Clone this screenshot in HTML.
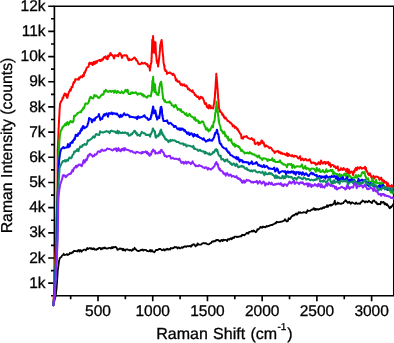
<!DOCTYPE html>
<html><head><meta charset="utf-8"><style>
html,body{margin:0;padding:0;background:#fff;overflow:hidden}
svg{display:block}
text{font-family:"Liberation Sans",Arial,sans-serif;fill:#000;text-rendering:geometricPrecision;stroke:#000;stroke-width:0.3px}
</style></head><body>
<svg width="394" height="343" viewBox="0 0 394 343">
<g font-size="15.5"><text x="45.6" y="287.78" text-anchor="end">1k</text><text x="45.6" y="262.60" text-anchor="end">2k</text><text x="45.6" y="237.42" text-anchor="end">3k</text><text x="45.6" y="212.24" text-anchor="end">4k</text><text x="45.6" y="187.06" text-anchor="end">5k</text><text x="45.6" y="161.88" text-anchor="end">6k</text><text x="45.6" y="136.70" text-anchor="end">7k</text><text x="45.6" y="111.52" text-anchor="end">8k</text><text x="45.6" y="86.34" text-anchor="end">9k</text><text x="45.6" y="61.16" text-anchor="end">10k</text><text x="45.6" y="35.98" text-anchor="end">11k</text><text x="45.6" y="10.80" text-anchor="end">12k</text><text x="98.02" y="316.4" text-anchor="middle">500</text><text x="152.74" y="316.4" text-anchor="middle">1000</text><text x="207.46" y="316.4" text-anchor="middle">1500</text><text x="262.18" y="316.4" text-anchor="middle">2000</text><text x="316.90" y="316.4" text-anchor="middle">2500</text><text x="371.62" y="316.4" text-anchor="middle">3000</text></g>
<text font-size="16.0" y="339.4"><tspan x="156.3">Raman </tspan><tspan x="213.1">Shift </tspan><tspan x="250.4">(cm</tspan><tspan x="277.4" y="330.3" font-size="10">-1</tspan><tspan x="287.2" y="339.4">)</tspan></text>
<text font-size="15.8" transform="translate(12.0 233.3) rotate(-90)" x="0" y="0">Raman Intensity (counts)</text>
<g fill="none" stroke="#000" stroke-width="1.65">
<path d="M48.2 283.18H54.40M48.2 258.00H54.40M48.2 232.82H54.40M48.2 207.64H54.40M48.2 182.46H54.40M48.2 157.28H54.40M48.2 132.10H54.40M48.2 106.92H54.40M48.2 81.74H54.40M48.2 56.56H54.40M48.2 31.38H54.40M48.2 6.20H54.40M51 270.59H54.40M51 245.41H54.40M51 220.23H54.40M51 195.05H54.40M51 169.87H54.40M51 144.69H54.40M51 119.51H54.40M51 94.33H54.40M51 69.15H54.40M51 43.97H54.40M51 18.79H54.40M51 295.77H54.40M98.02 295.70V301.2M152.74 295.70V301.2M207.46 295.70V301.2M262.18 295.70V301.2M316.90 295.70V301.2M371.62 295.70V301.2M70.66 295.70V299.2M125.38 295.70V299.2M180.10 295.70V299.2M234.82 295.70V299.2M289.54 295.70V299.2M344.26 295.70V299.2"/>
<path d="M54.40 295.70V6.20H393.80V295.70Z" stroke-linejoin="miter"/>
</g>
<g fill="none" stroke-linejoin="round" stroke-linecap="round"><path stroke="#000000" stroke-width="1.8" d="M53.5 305.0 L53.7 304.2 L53.9 303.3 L54.0 302.5 L54.2 301.7 L54.4 300.8 L54.6 300.0 L54.8 299.1 L55.1 298.1 L55.3 297.2 L55.6 296.2 L55.8 295.3 L55.9 294.4 L56.0 293.5 L56.1 292.6 L56.2 291.6 L56.3 290.7 L56.4 289.8 L56.5 288.9 L56.6 288.0 L56.7 287.1 L56.7 286.2 L56.8 285.3 L56.9 284.4 L56.9 283.6 L57.0 282.7 L57.1 281.8 L57.1 280.9 L57.2 280.0 L57.2 279.1 L57.3 278.2 L57.4 277.3 L57.4 276.4 L57.5 275.5 L57.5 274.6 L57.6 273.7 L57.6 272.8 L57.7 271.9 L57.7 271.0 L57.8 270.1 L58.0 269.2 L58.1 268.3 L58.2 267.3 L58.3 266.4 L58.5 265.5 L58.6 264.6 L58.7 263.8 L58.8 263.0 L58.9 262.1 L59.0 261.3 L59.1 260.5 L59.4 259.7 L59.6 258.8 L59.9 258.0 L60.5 257.5 L61.1 257.2 L61.9 255.9 L62.6 255.2 L63.2 254.9 L63.7 253.8 L64.2 254.9 L64.7 255.0 L65.5 254.8 L66.2 254.6 L67.0 254.1 L67.7 255.1 L68.5 254.5 L69.3 254.1 L70.0 252.8 L70.6 253.4 L71.3 253.4 L72.0 252.4 L72.8 252.7 L73.6 251.2 L74.4 250.9 L75.1 251.1 L75.7 251.2 L76.4 251.1 L77.2 251.6 L77.9 250.5 L78.7 249.9 L79.5 251.6 L80.2 250.1 L80.8 250.1 L81.5 251.7 L82.2 250.8 L83.0 250.3 L83.8 249.6 L84.6 249.7 L85.3 249.6 L85.9 250.3 L86.6 249.2 L87.3 248.0 L88.1 249.1 L88.9 248.6 L89.7 248.1 L90.4 248.1 L91.0 248.9 L91.7 248.2 L92.4 249.2 L93.1 249.3 L93.8 248.2 L94.6 249.5 L95.4 249.4 L96.3 249.8 L97.1 249.0 L97.8 249.0 L98.6 248.3 L99.3 247.8 L100.1 247.9 L100.9 249.4 L101.7 248.2 L102.4 248.9 L103.2 247.8 L104.0 248.4 L104.7 247.4 L105.5 248.1 L106.2 248.5 L107.0 248.6 L107.8 248.3 L108.5 248.1 L109.3 247.9 L110.2 247.9 L111.0 248.5 L111.9 247.1 L112.7 248.1 L113.4 247.0 L114.1 247.3 L114.7 247.1 L115.4 246.8 L116.1 247.2 L116.8 248.1 L117.5 249.8 L118.2 249.3 L118.8 249.5 L119.5 248.7 L120.3 248.4 L121.0 249.0 L121.8 248.7 L122.6 250.2 L123.3 248.8 L123.9 250.2 L124.6 249.8 L125.3 250.7 L126.0 249.3 L126.7 249.3 L127.4 249.3 L128.0 249.8 L128.7 250.0 L129.4 250.4 L130.0 249.8 L130.7 250.0 L131.3 250.8 L132.0 250.7 L132.7 249.2 L133.3 249.7 L133.9 249.2 L134.6 247.8 L135.3 249.2 L135.9 249.4 L136.6 250.3 L137.4 250.8 L138.3 251.0 L139.1 251.0 L140.0 250.7 L140.8 249.8 L141.7 250.1 L142.5 249.4 L143.4 250.6 L144.2 249.8 L145.1 249.8 L145.9 249.9 L146.8 250.9 L147.6 251.0 L148.5 251.3 L149.3 251.1 L150.2 249.9 L151.0 251.5 L151.9 250.1 L152.7 251.7 L153.6 251.7 L154.4 252.2 L155.3 251.0 L156.1 249.9 L157.0 250.1 L157.7 249.8 L158.3 249.7 L158.9 249.0 L159.6 249.0 L160.4 248.9 L161.3 249.6 L162.1 250.3 L163.0 249.9 L163.8 249.1 L164.7 250.6 L165.5 249.5 L166.4 249.5 L167.2 248.7 L168.1 249.8 L169.1 249.1 L170.0 249.5 L170.8 248.0 L171.6 248.3 L172.3 248.1 L173.1 248.3 L173.8 247.8 L174.6 247.0 L175.3 247.4 L176.1 247.2 L176.9 247.2 L177.6 248.5 L178.4 247.5 L179.2 247.5 L179.9 248.4 L180.5 248.0 L181.2 247.8 L181.9 247.2 L182.6 247.9 L183.3 247.3 L184.3 246.5 L185.3 246.3 L186.3 246.9 L187.1 246.1 L187.9 246.1 L188.6 246.3 L189.4 246.1 L190.2 245.9 L190.9 246.8 L191.7 245.1 L192.4 245.5 L193.2 244.2 L193.9 244.3 L194.7 244.8 L195.5 246.4 L196.2 245.4 L196.9 245.4 L197.6 243.4 L198.6 244.7 L199.6 244.6 L200.6 244.6 L201.3 244.5 L202.0 243.7 L202.7 243.4 L203.4 243.0 L204.2 243.2 L204.9 243.5 L205.7 243.1 L206.5 243.6 L207.2 244.0 L208.0 244.3 L208.8 244.4 L209.6 243.7 L210.3 243.2 L211.1 243.2 L211.8 241.8 L212.6 241.3 L213.3 241.7 L214.1 241.0 L214.8 241.3 L215.5 241.0 L216.3 239.9 L217.0 240.4 L217.7 239.8 L218.5 240.0 L219.4 241.3 L220.2 241.4 L221.0 240.3 L221.8 239.9 L222.5 241.1 L223.3 239.6 L224.1 240.4 L224.9 239.8 L225.6 239.9 L226.4 240.2 L227.2 241.0 L227.9 239.1 L228.7 239.2 L229.4 239.6 L230.2 238.6 L230.9 238.2 L231.7 239.3 L232.5 237.7 L233.2 237.7 L233.8 238.0 L234.5 236.7 L235.3 236.6 L236.1 236.6 L236.8 237.1 L237.6 236.7 L238.4 236.8 L239.1 236.6 L239.9 236.4 L240.7 236.2 L241.4 236.3 L242.2 234.7 L242.9 235.1 L243.7 235.0 L244.5 235.3 L245.4 234.2 L246.2 233.6 L246.9 232.7 L247.6 233.3 L248.4 233.6 L249.1 231.9 L249.8 231.9 L250.6 231.7 L251.3 231.5 L252.1 230.8 L252.9 231.6 L253.6 230.4 L254.4 231.0 L255.2 231.7 L255.9 232.2 L256.7 231.2 L257.4 229.2 L258.2 229.6 L259.0 228.9 L259.8 228.1 L260.5 226.8 L261.3 227.0 L262.1 227.9 L262.9 226.5 L263.6 227.0 L264.4 226.8 L265.1 227.4 L265.9 226.9 L266.6 226.0 L267.4 226.5 L268.2 226.0 L268.9 226.1 L269.7 225.3 L270.5 225.3 L271.3 224.8 L272.1 225.2 L272.8 224.6 L273.6 224.1 L274.4 223.7 L275.1 223.2 L275.9 223.3 L276.6 221.7 L277.4 222.2 L278.1 222.3 L278.9 222.0 L279.7 222.1 L280.4 221.9 L281.2 221.6 L281.9 221.7 L282.7 221.2 L283.5 220.9 L284.2 220.6 L285.0 219.3 L285.7 219.9 L286.4 221.3 L287.1 221.3 L287.9 221.1 L288.6 218.1 L289.4 219.1 L290.1 219.0 L290.7 218.1 L291.3 216.9 L292.0 216.2 L292.6 215.8 L293.2 215.1 L293.9 215.6 L294.7 214.9 L295.4 214.1 L296.2 213.4 L297.0 214.8 L297.8 213.8 L298.5 212.3 L299.3 212.9 L300.1 212.2 L300.9 212.9 L301.6 212.8 L302.4 212.6 L303.1 212.6 L303.9 212.1 L304.6 212.3 L305.4 212.5 L305.9 212.1 L306.4 213.0 L307.0 211.7 L307.5 210.2 L308.5 210.9 L309.5 210.8 L310.5 210.8 L311.3 209.7 L312.1 209.6 L312.8 209.7 L313.6 208.1 L314.4 208.5 L315.1 210.0 L315.9 208.8 L316.7 209.7 L317.7 209.1 L318.7 209.6 L319.7 208.9 L320.4 208.7 L321.0 208.1 L321.6 208.8 L322.3 208.5 L323.2 207.2 L324.2 208.0 L325.1 206.9 L325.8 206.8 L326.4 206.8 L327.1 205.2 L327.9 207.0 L328.6 205.4 L329.4 205.4 L330.2 204.7 L330.9 205.8 L331.7 204.7 L332.4 205.0 L333.2 204.1 L333.6 203.7 L334.0 203.2 L334.4 202.2 L334.8 200.7 L335.2 203.2 L335.6 204.7 L335.9 203.5 L336.3 203.8 L337.1 203.9 L337.8 202.5 L338.6 203.7 L339.3 203.4 L340.1 203.6 L340.9 204.1 L341.6 203.4 L342.4 203.3 L343.2 203.2 L343.9 201.9 L344.7 201.7 L345.5 200.2 L346.2 200.7 L347.0 201.9 L347.8 202.9 L348.5 202.4 L349.3 201.6 L350.1 203.0 L350.8 203.9 L351.6 202.5 L352.5 202.5 L353.3 203.0 L354.2 203.5 L355.2 203.9 L356.1 202.5 L357.1 203.8 L357.9 203.7 L358.6 203.5 L359.4 203.5 L360.1 203.9 L360.9 202.1 L361.7 202.1 L362.6 200.5 L363.4 201.1 L364.2 201.3 L365.0 202.5 L365.8 201.4 L366.5 201.4 L367.3 202.2 L368.1 201.7 L368.8 200.7 L369.6 201.5 L370.3 201.9 L371.1 202.5 L371.9 203.1 L372.6 201.3 L373.4 200.7 L374.2 200.4 L375.1 201.7 L375.9 202.8 L376.5 202.2 L377.2 204.1 L377.9 204.3 L378.5 203.8 L379.1 204.1 L379.7 204.1 L380.4 204.3 L381.0 201.7 L381.6 202.6 L382.4 202.7 L383.1 201.9 L383.9 202.3 L384.6 204.4 L385.2 203.3 L385.8 203.8 L386.5 205.1 L387.1 204.1 L387.7 205.4 L388.4 205.9 L389.0 207.2 L389.7 208.4 L390.2 207.9 L390.7 206.8 L391.3 207.2 L391.8 206.1 L392.3 206.0 L393.0 204.3 L393.6 204.5"/><path stroke="#ff0000" stroke-width="2.0" d="M53.3 305.2 L53.4 304.3 L53.4 303.3 L53.5 302.4 L53.5 301.5 L53.6 300.6 L53.6 299.6 L53.7 298.7 L53.7 297.8 L53.8 296.9 L53.9 295.9 L53.9 295.0 L53.9 294.0 L54.0 293.1 L54.0 292.1 L54.0 291.2 L54.0 290.2 L54.1 289.3 L54.1 288.3 L54.1 287.4 L54.2 286.4 L54.2 285.5 L54.2 284.5 L54.2 283.6 L54.3 282.6 L54.3 281.7 L54.3 280.7 L54.4 279.8 L54.4 278.8 L54.4 277.9 L54.4 276.9 L54.5 276.0 L54.5 275.0 L54.5 274.1 L54.6 273.1 L54.6 272.2 L54.7 271.2 L54.7 270.3 L54.8 269.3 L54.8 268.4 L54.9 267.4 L54.9 266.5 L55.0 265.5 L55.0 264.6 L55.1 263.6 L55.1 262.7 L55.2 261.7 L55.2 260.8 L55.3 259.8 L55.3 258.9 L55.4 257.9 L55.4 257.0 L55.4 256.1 L55.5 255.1 L55.5 254.2 L55.6 253.2 L55.6 252.3 L55.6 251.3 L55.7 250.4 L55.7 249.4 L55.8 248.5 L55.8 247.6 L55.8 246.6 L55.9 245.7 L55.9 244.7 L55.9 243.8 L56.0 242.8 L56.0 241.9 L56.1 240.9 L56.1 240.0 L56.1 239.1 L56.1 238.1 L56.2 237.2 L56.2 236.2 L56.2 235.3 L56.2 234.3 L56.2 233.4 L56.3 232.4 L56.3 231.5 L56.3 230.5 L56.3 229.6 L56.4 228.6 L56.4 227.7 L56.4 226.7 L56.4 225.8 L56.4 224.8 L56.5 223.9 L56.5 222.9 L56.5 222.0 L56.5 221.0 L56.6 220.1 L56.6 219.1 L56.6 218.1 L56.7 217.2 L56.7 216.2 L56.7 215.2 L56.8 214.2 L56.8 213.3 L56.8 212.3 L56.9 211.3 L56.9 210.4 L56.9 209.4 L57.0 208.4 L57.0 207.5 L57.0 206.5 L57.1 205.5 L57.1 204.5 L57.1 203.6 L57.2 202.6 L57.2 201.6 L57.2 200.7 L57.3 199.7 L57.3 198.7 L57.3 197.8 L57.4 196.8 L57.4 195.8 L57.4 194.8 L57.5 193.9 L57.5 192.9 L57.5 191.9 L57.6 191.0 L57.6 190.0 L57.6 189.0 L57.6 188.0 L57.6 187.0 L57.6 186.0 L57.6 185.0 L57.6 184.0 L57.6 183.0 L57.6 182.0 L57.6 181.0 L57.6 180.0 L57.6 179.0 L57.6 178.0 L57.6 177.0 L57.6 176.0 L57.6 175.0 L57.6 174.0 L57.6 173.1 L57.6 172.1 L57.6 171.2 L57.6 170.2 L57.6 169.2 L57.6 168.3 L57.6 167.3 L57.6 166.3 L57.6 165.4 L57.6 164.4 L57.6 163.5 L57.7 162.5 L57.7 161.5 L57.7 160.6 L57.7 159.6 L57.7 158.7 L57.7 157.7 L57.7 156.7 L57.7 155.8 L57.7 154.8 L57.7 153.8 L57.7 152.9 L57.7 151.9 L57.7 151.0 L57.7 150.0 L57.8 149.1 L57.8 148.1 L57.9 147.2 L57.9 146.2 L58.0 145.3 L58.0 144.4 L58.1 143.4 L58.1 142.5 L58.1 141.6 L58.2 140.6 L58.2 139.7 L58.2 138.8 L58.3 137.8 L58.3 136.9 L58.3 136.0 L58.4 135.0 L58.4 134.1 L58.4 133.2 L58.5 132.2 L58.5 131.3 L58.5 130.4 L58.6 129.4 L58.6 128.5 L58.7 127.5 L58.7 126.6 L58.8 125.6 L58.8 124.7 L58.9 123.7 L58.9 122.7 L59.0 121.8 L59.0 120.8 L59.1 119.8 L59.1 118.9 L59.2 117.9 L59.2 117.0 L59.3 116.0 L59.3 115.1 L59.4 114.2 L59.4 113.3 L59.5 112.4 L59.5 111.6 L59.6 110.7 L59.6 109.8 L59.7 108.9 L59.7 108.0 L59.8 107.1 L59.9 106.3 L59.9 105.4 L60.0 104.6 L60.1 103.7 L60.4 103.0 L60.7 102.5 L61.0 101.4 L61.5 101.0 L61.9 100.2 L62.3 99.4 L62.6 97.6 L63.0 97.4 L63.3 97.9 L63.6 95.9 L64.2 94.8 L64.8 93.5 L65.4 94.4 L65.8 95.7 L66.3 94.2 L66.7 95.1 L67.1 97.8 L67.4 97.8 L67.7 95.9 L68.0 95.4 L68.3 93.8 L68.6 93.0 L68.9 92.5 L69.3 91.1 L69.8 90.9 L70.2 89.3 L70.6 90.8 L71.1 89.1 L71.5 87.0 L71.9 86.7 L72.4 87.1 L72.8 85.2 L73.2 83.9 L73.7 81.9 L74.1 82.8 L74.5 81.8 L74.8 81.7 L75.2 79.3 L75.5 79.7 L75.9 79.2 L76.6 79.5 L77.2 79.5 L77.8 79.2 L78.5 78.4 L78.9 79.7 L79.3 77.4 L79.8 77.2 L80.2 77.7 L80.9 76.3 L81.6 76.7 L82.2 77.1 L82.9 75.1 L83.3 75.8 L83.8 76.1 L84.2 72.4 L84.6 73.1 L85.0 72.8 L85.3 71.9 L85.7 70.2 L86.0 70.4 L86.4 68.5 L87.0 67.4 L87.5 67.3 L88.1 66.8 L88.5 66.7 L88.8 65.4 L89.2 63.1 L89.5 63.7 L89.9 62.6 L90.8 63.9 L91.6 62.7 L92.2 64.8 L92.8 64.9 L93.4 62.6 L94.1 61.7 L94.7 63.9 L95.3 63.5 L96.0 61.2 L96.7 62.8 L97.4 60.9 L98.1 60.6 L98.8 60.3 L99.5 59.9 L100.2 61.1 L101.0 59.9 L101.7 60.7 L102.4 58.9 L103.1 59.5 L103.7 57.7 L104.4 57.0 L105.1 57.5 L105.7 56.3 L106.3 58.8 L107.0 57.7 L107.6 59.3 L108.2 55.5 L108.8 56.7 L109.3 56.1 L109.9 54.9 L110.5 52.9 L111.2 55.2 L111.9 54.7 L112.6 55.2 L113.3 56.6 L114.0 58.5 L114.9 55.2 L115.8 55.7 L116.6 55.8 L117.5 55.0 L118.2 56.4 L118.8 54.9 L119.4 53.1 L120.1 53.3 L120.8 54.1 L121.4 55.8 L122.0 57.9 L122.7 55.9 L123.6 55.4 L124.5 55.2 L125.3 55.6 L126.2 55.2 L126.7 55.9 L127.1 56.0 L127.6 58.3 L128.0 58.4 L128.5 60.2 L128.9 58.6 L129.8 60.1 L130.6 59.5 L131.5 60.0 L132.4 59.1 L133.2 58.7 L134.1 57.6 L135.0 57.7 L135.4 58.9 L135.9 58.8 L136.3 60.6 L136.7 60.3 L137.2 60.8 L137.6 61.6 L138.4 63.6 L139.2 64.2 L140.0 64.3 L141.0 63.9 L141.9 62.6 L142.9 63.5 L143.9 63.4 L144.8 62.8 L145.8 63.8 L146.5 64.5 L147.3 64.0 L148.0 66.6 L148.4 66.6 L148.8 65.9 L149.1 66.9 L149.5 66.8 L149.9 70.6 L150.1 67.5 L150.3 68.1 L150.5 66.5 L150.7 64.1 L150.8 64.1 L151.0 63.4 L151.2 63.5 L151.4 61.9 L151.4 60.3 L151.5 61.8 L151.5 59.3 L151.6 56.9 L151.6 58.9 L151.7 56.8 L151.7 55.4 L151.7 53.7 L151.8 54.0 L151.8 51.6 L151.9 53.2 L151.9 51.3 L151.9 50.3 L152.0 49.5 L152.0 49.0 L152.0 47.1 L152.1 46.9 L152.1 44.2 L152.1 44.7 L152.2 43.9 L152.2 41.9 L152.2 40.5 L152.3 41.9 L152.3 40.8 L152.3 39.6 L152.4 41.7 L152.4 41.8 L152.4 42.8 L152.4 45.7 L152.5 45.5 L152.5 46.7 L152.5 46.7 L152.6 48.6 L152.6 49.2 L152.6 49.6 L152.6 50.7 L152.7 51.2 L152.7 52.7 L152.7 50.9 L152.7 50.5 L152.8 50.5 L152.8 48.9 L152.8 47.8 L152.8 45.6 L152.9 46.3 L152.9 44.8 L152.9 45.2 L152.9 44.0 L153.0 43.0 L153.0 40.7 L153.0 40.2 L153.0 37.5 L153.1 36.1 L153.1 37.2 L153.1 35.9 L153.1 38.2 L153.2 37.2 L153.2 38.6 L153.2 40.1 L153.3 40.7 L153.3 42.3 L153.3 42.3 L153.3 44.2 L153.4 45.3 L153.4 46.5 L153.4 46.2 L153.5 48.5 L153.5 48.0 L153.6 47.5 L153.6 48.1 L153.7 45.9 L153.7 44.9 L153.8 43.6 L153.8 43.0 L153.8 42.0 L153.9 41.5 L153.9 42.1 L154.0 42.6 L154.0 43.2 L154.0 46.3 L154.1 45.9 L154.1 45.9 L154.1 47.2 L154.2 48.7 L154.2 48.8 L154.2 51.3 L154.3 51.2 L154.3 52.4 L154.3 51.4 L154.4 49.3 L154.4 50.5 L154.5 49.0 L154.5 46.3 L154.6 46.3 L154.6 45.2 L154.7 43.9 L154.7 43.0 L154.7 43.7 L154.8 45.4 L154.8 46.1 L154.9 46.0 L154.9 47.6 L154.9 48.3 L155.0 50.3 L155.0 51.1 L155.1 51.8 L155.1 53.1 L155.1 52.2 L155.2 50.5 L155.2 48.6 L155.2 50.7 L155.2 47.5 L155.3 46.7 L155.3 46.7 L155.3 46.9 L155.3 43.4 L155.4 43.3 L155.4 43.3 L155.5 42.2 L155.5 43.9 L155.6 45.5 L155.6 47.1 L155.7 46.2 L155.7 48.1 L155.8 49.4 L155.8 50.3 L155.8 51.2 L155.9 53.7 L155.9 54.7 L156.0 53.5 L156.1 54.5 L156.2 55.8 L156.3 55.7 L156.4 56.9 L156.5 58.8 L156.7 61.1 L156.8 60.1 L156.9 60.8 L157.0 62.5 L157.1 62.9 L157.2 62.6 L157.7 63.6 L158.2 66.5 L158.3 63.6 L158.4 64.0 L158.6 62.8 L158.7 62.6 L158.8 61.2 L158.9 59.7 L159.1 58.8 L159.2 58.0 L159.3 57.1 L159.4 56.2 L159.4 55.3 L159.5 54.9 L159.6 53.9 L159.7 51.5 L159.8 51.8 L159.8 52.4 L159.9 51.5 L160.0 48.8 L160.1 47.3 L160.2 46.8 L160.2 45.2 L160.3 44.7 L160.4 45.5 L160.6 44.3 L160.9 42.3 L161.1 41.5 L161.4 40.9 L161.6 39.9 L161.7 40.9 L161.8 41.9 L161.8 42.6 L161.9 42.5 L162.0 44.7 L162.1 45.6 L162.2 45.5 L162.3 46.6 L162.3 48.4 L162.4 49.0 L162.5 50.8 L162.6 50.7 L162.7 52.4 L162.8 53.3 L162.8 53.0 L162.9 54.6 L163.0 55.8 L163.1 56.6 L163.2 56.8 L163.3 58.4 L163.3 60.0 L163.4 60.3 L163.5 62.1 L163.6 62.7 L163.8 63.7 L164.0 64.1 L164.2 66.3 L164.4 65.4 L164.6 69.2 L164.8 68.8 L165.2 70.9 L165.7 70.2 L166.1 70.6 L166.6 71.5 L167.0 73.9 L167.7 73.1 L168.5 73.1 L169.2 72.6 L170.1 72.6 L171.1 73.5 L172.0 73.8 L172.7 74.9 L173.3 73.7 L174.0 75.1 L174.5 75.3 L175.0 76.8 L175.5 78.4 L176.0 80.5 L176.5 79.2 L177.0 80.0 L177.5 81.7 L178.3 81.8 L179.2 81.2 L180.0 83.4 L180.8 84.9 L181.7 84.0 L182.5 85.4 L183.3 84.7 L184.1 84.3 L184.9 86.0 L185.7 86.2 L186.4 85.5 L187.2 86.9 L188.0 89.1 L188.5 88.5 L188.9 88.6 L189.4 89.9 L189.8 90.5 L190.3 90.1 L191.1 90.9 L191.8 91.7 L192.6 90.4 L193.2 92.5 L193.8 92.4 L194.4 93.6 L195.0 95.0 L195.6 94.7 L196.2 96.2 L196.7 96.5 L197.3 97.0 L198.0 96.4 L198.7 97.6 L199.3 99.1 L200.0 98.7 L200.7 96.7 L201.5 97.6 L202.2 97.2 L202.7 98.0 L203.1 98.7 L203.6 100.2 L204.0 100.6 L204.3 102.2 L204.7 103.6 L205.1 103.9 L205.4 104.2 L205.8 102.9 L206.2 103.7 L206.6 105.3 L206.9 107.0 L207.3 107.4 L208.0 106.4 L208.7 108.4 L208.9 106.3 L209.1 105.0 L209.3 105.0 L209.5 105.8 L209.8 105.6 L210.2 107.4 L210.6 105.9 L210.9 108.3 L211.6 107.6 L212.4 107.9 L213.1 108.5 L213.3 107.6 L213.4 107.3 L213.6 105.4 L213.8 104.8 L213.9 103.8 L214.1 103.2 L214.3 102.2 L214.4 99.6 L214.6 101.1 L214.7 99.5 L214.7 97.5 L214.8 97.4 L214.9 97.7 L214.9 96.6 L215.0 94.6 L215.0 93.3 L215.1 94.4 L215.2 92.4 L215.2 91.3 L215.3 90.0 L215.4 90.1 L215.4 87.6 L215.5 88.1 L215.6 87.0 L215.6 85.4 L215.7 84.3 L215.7 83.9 L215.8 82.4 L215.9 81.5 L215.9 80.3 L216.0 80.3 L216.1 78.0 L216.1 77.8 L216.2 76.7 L216.2 77.4 L216.3 73.8 L216.4 75.9 L216.5 76.1 L216.6 79.1 L216.7 77.5 L216.8 80.7 L216.8 80.6 L216.9 80.6 L217.0 82.0 L217.1 82.6 L217.2 83.9 L217.3 85.7 L217.3 85.8 L217.4 88.3 L217.5 88.9 L217.5 88.1 L217.6 88.7 L217.7 90.9 L217.7 91.3 L217.8 92.0 L217.9 94.7 L217.9 94.4 L218.0 94.8 L218.1 96.3 L218.1 97.3 L218.2 98.9 L218.3 99.1 L218.4 100.2 L218.5 100.3 L218.6 103.0 L218.7 104.4 L218.7 102.5 L218.8 105.5 L218.9 107.5 L219.0 107.9 L219.1 108.6 L219.2 108.3 L219.7 111.4 L220.1 110.5 L220.6 112.1 L221.1 112.3 L221.6 112.4 L222.1 114.3 L222.6 115.2 L223.0 114.4 L223.5 115.3 L223.9 117.3 L224.4 116.8 L224.8 118.4 L225.4 117.5 L226.0 118.2 L226.5 119.3 L227.1 119.9 L227.7 121.0 L228.4 121.1 L229.1 121.5 L229.9 122.7 L230.6 122.6 L231.3 123.6 L232.1 124.2 L232.8 126.4 L233.6 125.3 L234.3 126.1 L234.9 127.9 L235.5 127.0 L236.1 127.2 L236.7 128.3 L237.3 129.4 L237.7 129.0 L238.2 130.7 L238.6 130.9 L239.1 131.7 L239.5 132.6 L239.9 133.2 L240.3 133.5 L240.7 134.7 L241.1 134.6 L241.5 138.3 L242.2 137.4 L243.0 138.6 L243.9 136.6 L244.8 136.8 L245.7 136.7 L246.6 136.1 L247.4 137.5 L248.3 138.1 L249.2 138.5 L250.1 139.0 L250.9 138.8 L251.8 138.1 L252.7 139.9 L253.4 139.6 L254.1 139.5 L254.8 143.6 L255.5 144.1 L256.2 143.5 L257.0 143.3 L257.7 142.3 L258.5 144.9 L259.2 142.9 L260.0 144.2 L260.8 143.2 L261.5 140.4 L262.2 140.8 L263.0 143.3 L263.7 142.5 L264.5 146.1 L265.2 146.7 L266.0 145.4 L266.7 145.9 L267.6 146.6 L268.5 146.8 L269.4 148.2 L270.2 147.4 L271.1 147.9 L272.0 149.3 L272.9 150.8 L273.7 150.9 L274.6 152.9 L275.5 152.1 L276.3 151.3 L277.2 151.4 L278.1 151.0 L278.9 152.6 L279.8 151.9 L280.7 153.4 L281.5 152.6 L282.4 154.1 L283.3 153.8 L284.3 153.8 L285.2 154.7 L286.1 155.2 L287.0 153.1 L287.9 156.1 L288.7 154.0 L289.6 155.3 L290.5 155.4 L291.4 156.2 L292.2 155.0 L293.1 156.3 L294.0 156.8 L294.8 155.7 L295.7 156.1 L296.6 156.2 L297.5 157.4 L298.4 158.5 L299.2 157.7 L300.1 156.2 L301.0 160.2 L301.9 159.2 L302.7 158.6 L303.6 160.4 L304.5 159.9 L305.3 158.8 L306.2 159.4 L307.1 160.6 L308.0 160.6 L308.9 159.9 L309.7 159.2 L310.6 161.5 L311.5 163.2 L312.4 162.6 L313.2 162.4 L314.1 163.1 L315.0 162.8 L315.8 164.8 L316.7 163.7 L317.6 164.3 L318.5 162.2 L319.4 163.0 L320.2 164.3 L321.1 160.5 L322.0 162.8 L322.9 163.6 L323.7 162.4 L324.6 161.7 L325.5 164.0 L326.3 162.3 L327.2 163.0 L328.1 161.8 L329.0 165.1 L329.9 163.2 L330.7 166.9 L331.6 165.0 L332.5 165.1 L333.4 165.2 L334.2 166.9 L335.1 166.4 L336.0 168.2 L336.8 167.8 L337.7 166.4 L338.4 170.5 L339.2 170.3 L340.1 170.0 L341.0 168.1 L341.9 169.4 L342.7 170.0 L343.6 168.0 L344.5 169.5 L345.4 169.6 L346.2 171.7 L347.1 168.7 L348.0 173.2 L348.8 169.4 L349.7 173.6 L350.6 171.9 L351.4 171.4 L352.3 172.2 L353.2 175.1 L353.6 171.3 L354.1 172.4 L354.5 172.0 L355.0 169.1 L355.4 169.0 L355.9 167.9 L356.8 170.1 L357.6 167.2 L358.5 168.0 L359.3 168.7 L360.2 167.1 L361.1 167.6 L362.0 168.8 L362.8 168.2 L363.7 167.8 L364.6 168.4 L365.1 166.7 L365.5 169.7 L365.9 167.8 L366.4 171.1 L366.8 170.9 L367.3 172.0 L367.7 172.8 L368.1 174.3 L368.6 173.6 L369.0 175.3 L369.9 173.3 L370.8 175.6 L371.6 177.9 L372.5 178.5 L373.4 175.8 L374.2 178.5 L375.1 176.9 L376.0 176.5 L376.9 176.7 L377.8 177.2 L378.6 177.3 L379.5 179.9 L380.4 178.7 L381.2 177.5 L382.1 180.4 L383.0 180.1 L383.6 183.0 L384.2 180.7 L384.8 182.5 L385.3 182.4 L385.9 182.0 L386.5 182.3 L387.2 186.5 L387.9 183.3 L388.6 185.4 L389.3 186.4 L390.0 186.2 L390.9 186.7 L391.8 185.1 L392.7 187.9 L393.6 188.2"/><path stroke="#17b900" stroke-width="2.0" d="M53.3 305.2 L53.4 304.3 L53.5 303.3 L53.5 302.4 L53.6 301.5 L53.7 300.6 L53.8 299.6 L53.8 298.7 L53.9 297.8 L54.0 296.9 L54.1 295.9 L54.1 295.0 L54.2 294.0 L54.2 293.1 L54.2 292.1 L54.3 291.2 L54.3 290.2 L54.3 289.3 L54.4 288.3 L54.4 287.4 L54.5 286.4 L54.5 285.5 L54.5 284.5 L54.6 283.6 L54.6 282.6 L54.6 281.7 L54.7 280.7 L54.7 279.8 L54.8 278.8 L54.8 277.9 L54.8 276.9 L54.9 276.0 L54.9 275.0 L54.9 274.1 L55.0 273.1 L55.0 272.2 L55.1 271.2 L55.1 270.3 L55.2 269.3 L55.2 268.4 L55.3 267.4 L55.3 266.5 L55.4 265.5 L55.4 264.6 L55.5 263.6 L55.5 262.7 L55.6 261.7 L55.6 260.8 L55.7 259.8 L55.7 258.9 L55.8 257.9 L55.8 257.0 L55.8 256.1 L55.9 255.1 L55.9 254.2 L56.0 253.2 L56.0 252.3 L56.0 251.3 L56.1 250.4 L56.1 249.4 L56.1 248.5 L56.2 247.6 L56.2 246.6 L56.3 245.7 L56.3 244.7 L56.3 243.8 L56.4 242.8 L56.4 241.9 L56.5 240.9 L56.5 240.0 L56.5 239.1 L56.5 238.1 L56.6 237.2 L56.6 236.2 L56.6 235.3 L56.6 234.3 L56.6 233.4 L56.7 232.4 L56.7 231.5 L56.7 230.5 L56.7 229.6 L56.8 228.6 L56.8 227.7 L56.8 226.7 L56.8 225.8 L56.8 224.8 L56.9 223.9 L56.9 222.9 L56.9 222.0 L56.9 221.1 L56.9 220.1 L56.9 219.2 L56.9 218.2 L57.0 217.3 L57.0 216.3 L57.0 215.4 L57.0 214.4 L57.0 213.5 L57.0 212.6 L57.0 211.6 L57.0 210.7 L57.0 209.7 L57.1 208.8 L57.1 207.8 L57.1 206.9 L57.1 205.9 L57.1 205.0 L57.1 204.0 L57.2 203.1 L57.2 202.1 L57.2 201.2 L57.3 200.2 L57.3 199.2 L57.3 198.3 L57.4 197.3 L57.4 196.3 L57.4 195.4 L57.5 194.4 L57.5 193.5 L57.5 192.5 L57.6 191.5 L57.6 190.6 L57.7 189.6 L57.7 188.7 L57.7 187.7 L57.8 186.7 L57.8 185.8 L57.8 184.8 L57.9 183.8 L57.9 182.9 L57.9 181.9 L58.0 181.0 L58.0 180.0 L58.0 179.0 L58.0 178.1 L58.1 177.1 L58.1 176.2 L58.1 175.2 L58.1 174.3 L58.2 173.3 L58.2 172.4 L58.2 171.4 L58.2 170.5 L58.3 169.5 L58.3 168.6 L58.3 167.6 L58.3 166.7 L58.4 165.7 L58.4 164.8 L58.4 163.8 L58.4 162.9 L58.5 161.9 L58.5 161.0 L58.5 160.0 L58.5 159.1 L58.6 158.2 L58.6 157.3 L58.7 156.4 L58.7 155.5 L58.8 154.5 L58.8 153.6 L58.9 152.7 L58.9 151.8 L59.0 150.9 L59.0 150.0 L59.0 149.1 L59.1 148.1 L59.1 147.2 L59.1 146.2 L59.2 145.3 L59.2 144.4 L59.3 143.4 L59.3 142.5 L59.4 141.6 L59.4 140.8 L59.5 139.9 L59.6 139.0 L59.7 138.1 L59.8 137.2 L59.8 136.4 L59.9 135.5 L60.1 134.6 L60.2 133.7 L60.4 132.9 L60.5 132.1 L60.7 131.1 L61.2 130.4 L61.6 129.0 L62.0 128.9 L62.5 126.9 L63.1 126.5 L63.6 126.7 L64.2 125.4 L64.8 124.4 L65.4 123.8 L66.0 125.3 L66.8 122.6 L67.6 122.1 L68.4 124.7 L69.2 123.3 L69.9 121.9 L70.6 120.9 L71.3 121.9 L72.1 122.2 L72.9 122.3 L73.1 121.1 L73.4 120.3 L73.6 120.9 L73.8 118.5 L74.0 116.4 L74.3 115.6 L74.5 116.3 L75.2 116.0 L75.9 115.3 L76.6 114.7 L77.4 113.3 L78.2 113.0 L78.9 112.4 L79.7 112.3 L80.4 111.5 L81.1 112.2 L81.8 110.1 L82.2 109.6 L82.6 109.8 L83.1 108.4 L83.5 107.5 L83.9 108.5 L84.4 107.1 L85.0 104.5 L85.5 103.4 L86.0 103.3 L86.8 103.8 L87.6 103.7 L87.9 103.4 L88.3 102.8 L88.7 102.4 L89.0 100.5 L89.3 100.5 L89.7 98.0 L90.1 97.5 L90.5 96.8 L90.9 96.8 L91.3 97.9 L91.9 97.8 L92.6 98.3 L93.2 98.5 L93.8 96.9 L94.3 95.1 L94.9 95.2 L95.5 96.1 L96.2 95.5 L96.9 96.4 L97.6 96.9 L98.3 98.0 L99.0 97.9 L99.7 97.4 L100.2 96.8 L100.6 95.9 L101.0 95.6 L101.5 95.0 L102.2 94.3 L102.8 94.8 L103.5 94.6 L104.2 91.1 L105.0 91.9 L105.8 89.9 L106.5 90.7 L107.4 91.7 L108.2 91.5 L109.1 91.7 L110.0 90.7 L111.0 92.0 L112.0 90.9 L113.0 91.0 L114.0 92.6 L114.9 90.5 L115.8 91.5 L116.6 93.0 L117.5 91.1 L118.3 91.5 L119.2 92.5 L120.0 93.0 L120.8 92.9 L121.6 91.4 L122.4 92.6 L123.2 93.3 L124.0 92.6 L124.8 91.5 L125.5 89.9 L126.3 90.4 L127.1 91.9 L127.6 89.8 L128.1 92.2 L128.7 94.0 L129.2 93.9 L129.7 93.8 L130.4 94.0 L131.1 92.5 L131.8 93.2 L132.5 92.2 L133.2 93.0 L134.1 93.1 L134.9 92.8 L135.8 92.2 L136.7 93.3 L137.6 94.8 L138.4 93.5 L139.3 93.9 L140.2 93.3 L141.0 93.4 L141.8 95.2 L142.7 94.0 L143.5 96.4 L144.4 95.4 L145.3 96.7 L146.1 96.9 L147.0 97.8 L147.9 96.0 L148.9 95.8 L149.8 95.7 L150.8 96.4 L151.0 95.8 L151.2 93.4 L151.4 93.3 L151.6 91.3 L151.8 91.5 L151.8 91.6 L151.9 91.7 L151.9 90.9 L152.0 87.1 L152.0 87.4 L152.1 87.6 L152.1 85.7 L152.2 84.5 L152.2 84.4 L152.3 83.8 L152.3 81.1 L152.3 82.8 L152.4 82.8 L152.4 83.8 L152.5 85.5 L152.5 85.8 L152.6 87.8 L152.6 87.8 L152.7 88.2 L152.7 90.0 L152.7 88.4 L152.8 86.5 L152.8 88.5 L152.8 85.3 L152.8 84.1 L152.9 84.1 L152.9 81.6 L152.9 82.8 L153.0 80.0 L153.0 78.8 L153.0 80.9 L153.0 78.5 L153.1 78.9 L153.1 77.7 L153.1 77.9 L153.2 76.8 L153.2 79.5 L153.3 78.7 L153.3 79.5 L153.3 82.8 L153.4 82.5 L153.4 84.2 L153.5 84.7 L153.5 86.1 L153.6 86.7 L153.6 88.9 L153.7 86.5 L153.8 86.5 L153.8 85.6 L153.9 84.1 L154.0 83.2 L154.1 84.0 L154.1 85.2 L154.2 85.3 L154.2 86.8 L154.3 88.0 L154.3 88.3 L154.4 89.0 L154.4 89.4 L154.5 92.1 L154.6 91.6 L154.6 90.5 L154.7 89.3 L154.8 88.2 L154.8 85.7 L154.9 87.4 L154.9 85.5 L155.0 85.1 L155.1 84.6 L155.1 87.0 L155.2 86.6 L155.3 89.9 L155.4 89.6 L155.4 90.2 L155.5 91.3 L155.8 91.5 L156.1 93.0 L156.3 92.7 L156.6 94.4 L157.2 94.6 L157.8 94.5 L158.4 95.3 L158.5 93.0 L158.7 91.9 L158.8 92.1 L159.0 92.9 L159.1 90.8 L159.2 89.2 L159.4 87.7 L159.5 86.3 L159.7 86.2 L159.8 85.6 L160.0 85.0 L160.1 83.3 L160.4 83.4 L160.7 82.5 L161.0 81.9 L161.1 81.7 L161.3 82.9 L161.4 83.0 L161.5 84.9 L161.6 84.1 L161.8 86.5 L161.9 86.7 L162.0 88.4 L162.1 88.7 L162.2 88.8 L162.3 91.1 L162.4 92.1 L162.5 93.2 L162.6 93.1 L162.7 95.0 L162.8 95.5 L162.9 95.6 L163.0 97.6 L163.1 99.0 L163.6 98.9 L164.0 100.3 L164.5 101.4 L164.9 100.1 L165.4 101.9 L166.3 102.3 L167.1 102.5 L168.0 102.0 L168.8 102.5 L169.7 101.4 L170.4 103.0 L171.2 103.3 L171.9 105.3 L172.6 105.7 L173.4 105.5 L174.1 107.3 L174.8 105.5 L175.6 104.9 L176.3 106.6 L177.1 107.9 L177.8 109.9 L178.6 109.1 L179.4 108.9 L180.2 110.6 L180.9 109.4 L181.7 112.0 L182.5 111.8 L183.3 111.9 L184.1 112.9 L184.9 114.4 L185.7 114.7 L186.4 113.2 L187.2 116.1 L188.0 116.0 L188.8 115.0 L189.5 113.9 L190.3 115.0 L191.1 116.5 L191.8 116.8 L192.6 117.0 L193.4 117.6 L194.2 119.4 L194.9 117.4 L195.7 120.8 L196.5 119.8 L197.3 120.7 L198.0 120.6 L198.7 123.0 L199.3 121.7 L200.0 122.9 L200.7 122.8 L201.5 122.1 L202.2 121.2 L202.8 121.9 L203.3 121.8 L203.8 123.8 L204.4 125.3 L204.8 126.4 L205.3 126.2 L205.7 128.8 L206.2 129.6 L206.6 128.6 L207.3 128.2 L208.0 130.4 L208.7 131.5 L209.4 129.6 L210.2 130.3 L210.9 128.2 L211.4 127.7 L212.0 125.7 L212.6 126.3 L213.1 127.3 L213.3 123.9 L213.5 123.2 L213.7 121.6 L214.0 122.2 L214.2 121.6 L214.4 120.6 L214.6 120.7 L214.7 119.2 L214.8 118.2 L214.9 117.3 L215.0 116.2 L215.1 114.0 L215.2 113.3 L215.3 113.8 L215.4 112.1 L215.5 111.7 L215.6 111.2 L215.7 110.2 L215.8 108.7 L215.9 107.9 L216.0 106.5 L216.1 106.7 L216.2 105.9 L216.3 103.6 L216.4 103.1 L216.5 101.7 L216.6 103.7 L216.7 104.0 L216.8 106.2 L216.9 105.7 L217.1 107.3 L217.2 108.2 L217.3 110.4 L217.4 110.2 L217.5 112.1 L217.6 111.7 L217.8 110.9 L217.9 113.1 L218.0 114.7 L218.1 115.0 L218.2 116.5 L218.4 116.3 L218.5 118.5 L218.6 119.1 L218.8 121.8 L218.9 119.9 L219.0 122.0 L219.3 123.8 L219.5 124.0 L219.8 125.1 L220.1 125.8 L220.3 125.9 L220.6 127.6 L220.8 129.9 L221.1 130.3 L221.7 130.2 L222.2 131.6 L222.8 132.7 L223.3 133.5 L224.2 131.7 L224.8 133.2 L225.3 136.3 L225.9 135.1 L226.5 136.6 L227.0 136.9 L227.4 138.3 L227.9 136.7 L228.3 140.1 L228.8 140.5 L229.6 139.3 L230.4 140.6 L231.2 139.4 L231.8 142.8 L232.3 142.7 L232.9 144.2 L233.5 145.2 L234.3 143.7 L235.0 146.8 L235.8 145.1 L236.6 145.5 L237.4 146.4 L238.2 146.1 L238.8 147.3 L239.3 146.9 L239.9 148.3 L240.5 149.3 L241.1 151.0 L241.7 149.9 L242.2 150.3 L242.8 151.4 L243.7 151.8 L244.6 153.4 L245.4 152.8 L246.3 153.1 L247.2 152.6 L248.1 153.3 L248.9 153.4 L249.8 152.1 L250.7 153.4 L251.6 153.2 L252.4 154.3 L253.3 154.5 L254.1 154.2 L255.0 155.3 L255.8 155.7 L256.6 155.6 L257.5 157.3 L258.3 155.7 L259.1 155.5 L259.9 157.9 L260.6 157.9 L261.4 158.8 L262.2 160.0 L263.0 158.2 L263.9 158.5 L264.8 158.4 L265.8 158.8 L266.7 159.1 L267.6 161.0 L268.5 159.3 L269.5 159.9 L270.4 160.1 L271.4 160.1 L272.3 158.2 L273.3 161.2 L274.2 159.9 L275.2 161.7 L276.1 162.0 L277.1 161.9 L278.1 161.7 L279.0 162.1 L280.0 160.4 L280.9 162.2 L281.7 163.4 L282.6 163.2 L283.5 164.7 L284.3 164.3 L285.2 164.8 L286.1 165.4 L287.0 167.3 L287.9 164.1 L288.7 164.5 L289.6 163.9 L290.5 164.7 L291.4 163.9 L292.2 167.9 L293.1 165.0 L294.0 166.0 L294.8 167.7 L295.7 166.9 L296.6 166.3 L297.5 166.3 L298.4 166.5 L299.2 166.4 L300.1 166.8 L301.0 166.1 L301.9 164.4 L302.7 167.6 L303.6 168.8 L304.5 167.3 L305.3 165.9 L306.2 169.2 L307.1 168.1 L308.0 168.8 L308.9 168.5 L309.7 170.8 L310.6 169.4 L311.5 168.4 L312.4 168.6 L313.2 168.8 L314.1 168.8 L315.0 169.8 L315.8 171.8 L316.7 167.7 L317.6 170.7 L318.5 170.7 L319.4 168.9 L320.2 171.9 L321.1 171.7 L322.0 171.4 L322.9 170.0 L323.7 171.8 L324.6 172.5 L325.5 171.5 L326.3 169.2 L327.2 172.0 L328.1 171.1 L329.0 170.6 L329.9 171.0 L330.7 169.9 L331.6 171.2 L332.5 169.8 L333.4 174.8 L334.2 172.2 L335.1 173.5 L336.0 173.8 L336.8 174.4 L337.7 174.2 L338.7 176.1 L339.6 174.0 L340.6 177.2 L341.6 174.9 L342.6 177.3 L343.5 175.0 L344.5 173.5 L345.4 176.0 L346.2 173.7 L347.1 175.9 L348.0 177.1 L348.8 175.1 L349.7 175.8 L350.6 176.7 L351.4 178.1 L352.3 178.3 L353.2 177.6 L354.1 177.4 L354.9 177.7 L355.8 175.0 L356.7 177.8 L357.6 177.0 L358.4 175.0 L359.3 176.2 L360.2 176.5 L361.1 175.5 L362.0 172.5 L362.8 172.0 L363.7 173.0 L364.6 172.1 L365.0 174.7 L365.5 176.4 L365.9 176.9 L366.3 179.3 L366.8 178.5 L367.2 179.2 L368.1 178.3 L368.9 182.7 L369.8 181.6 L370.7 183.1 L371.6 182.3 L372.5 178.5 L373.4 181.7 L374.2 182.2 L375.1 182.9 L376.0 179.8 L376.9 183.0 L377.7 183.3 L378.6 183.2 L379.5 182.5 L380.3 184.9 L381.2 182.4 L382.0 184.8 L382.7 183.3 L383.5 185.6 L384.2 185.7 L385.0 187.0 L385.7 187.4 L386.5 188.1 L387.2 188.2 L387.9 190.1 L388.6 190.0 L389.3 189.8 L390.0 190.7 L390.9 192.5 L391.8 190.5 L392.7 193.4 L393.6 191.9"/><path stroke="#0000ff" stroke-width="2.0" d="M53.3 305.2 L53.4 304.3 L53.5 303.3 L53.6 302.4 L53.7 301.5 L53.8 300.6 L53.9 299.6 L54.0 298.7 L54.1 297.8 L54.2 296.9 L54.3 295.9 L54.3 295.0 L54.4 294.0 L54.4 293.1 L54.5 292.1 L54.5 291.2 L54.6 290.2 L54.6 289.3 L54.7 288.3 L54.7 287.4 L54.8 286.4 L54.8 285.5 L54.8 284.5 L54.9 283.6 L54.9 282.6 L55.0 281.7 L55.0 280.7 L55.1 279.8 L55.1 278.8 L55.2 277.9 L55.2 276.9 L55.3 276.0 L55.3 275.0 L55.3 274.1 L55.4 273.1 L55.4 272.2 L55.5 271.2 L55.5 270.3 L55.6 269.3 L55.6 268.4 L55.7 267.4 L55.7 266.5 L55.8 265.5 L55.8 264.6 L55.9 263.6 L55.9 262.7 L56.0 261.7 L56.0 260.8 L56.1 259.8 L56.1 258.9 L56.2 257.9 L56.2 257.0 L56.2 256.1 L56.3 255.1 L56.3 254.2 L56.4 253.2 L56.4 252.3 L56.4 251.3 L56.5 250.4 L56.5 249.4 L56.5 248.5 L56.6 247.6 L56.6 246.6 L56.7 245.7 L56.7 244.7 L56.7 243.8 L56.8 242.8 L56.8 241.9 L56.9 240.9 L56.9 240.0 L56.9 239.1 L56.9 238.1 L57.0 237.2 L57.0 236.2 L57.0 235.3 L57.0 234.3 L57.0 233.4 L57.1 232.4 L57.1 231.5 L57.1 230.5 L57.1 229.6 L57.2 228.6 L57.2 227.7 L57.2 226.7 L57.2 225.8 L57.2 224.8 L57.3 223.9 L57.3 222.9 L57.3 222.0 L57.3 221.1 L57.3 220.1 L57.3 219.2 L57.3 218.2 L57.4 217.3 L57.4 216.3 L57.4 215.4 L57.4 214.4 L57.4 213.5 L57.4 212.6 L57.4 211.6 L57.4 210.7 L57.4 209.7 L57.5 208.8 L57.5 207.8 L57.5 206.9 L57.5 205.9 L57.5 205.0 L57.5 204.0 L57.5 203.1 L57.6 202.1 L57.6 201.2 L57.6 200.2 L57.6 199.3 L57.7 198.3 L57.7 197.4 L57.7 196.4 L57.7 195.5 L57.8 194.5 L57.8 193.6 L57.8 192.6 L57.8 191.7 L57.9 190.7 L57.9 189.8 L57.9 188.8 L57.9 187.9 L58.0 186.9 L58.0 186.0 L58.0 185.0 L58.0 184.1 L58.1 183.1 L58.1 182.2 L58.1 181.2 L58.2 180.3 L58.2 179.4 L58.2 178.4 L58.2 177.5 L58.3 176.6 L58.3 175.6 L58.3 174.7 L58.4 173.8 L58.4 172.8 L58.4 171.9 L58.5 170.9 L58.5 170.0 L58.6 169.1 L58.6 168.2 L58.7 167.3 L58.8 166.4 L58.8 165.5 L58.9 164.5 L58.9 163.6 L59.0 162.7 L59.1 161.8 L59.1 160.9 L59.2 160.0 L59.3 159.1 L59.5 158.1 L59.6 157.2 L59.7 156.2 L59.8 155.3 L60.0 154.4 L60.1 153.5 L60.2 152.5 L60.5 151.6 L60.8 150.4 L61.0 149.8 L61.3 148.8 L61.8 148.5 L62.4 148.3 L63.0 147.2 L63.5 147.1 L64.2 148.2 L65.0 147.7 L65.7 147.7 L66.4 147.3 L67.2 147.4 L67.9 144.1 L68.6 147.2 L69.2 145.4 L69.8 146.4 L70.3 143.1 L70.9 143.2 L71.5 142.6 L72.0 141.6 L72.6 142.7 L73.1 140.6 L73.5 139.9 L74.0 140.1 L74.4 138.3 L74.8 139.4 L75.3 136.7 L75.7 134.8 L76.4 136.0 L77.1 134.7 L77.7 135.9 L78.4 133.2 L78.9 133.8 L79.5 133.6 L80.0 133.0 L80.3 130.8 L80.7 131.5 L81.1 129.8 L81.4 128.5 L81.9 130.4 L82.3 128.0 L82.8 126.3 L83.5 126.1 L84.2 128.4 L84.9 128.0 L85.6 127.3 L86.3 127.3 L87.0 126.3 L87.2 125.9 L87.5 125.4 L87.8 123.6 L88.0 123.7 L88.3 122.9 L88.5 121.4 L88.8 120.6 L89.1 117.9 L89.8 118.8 L90.5 118.8 L91.2 119.3 L91.7 121.5 L92.1 122.3 L92.6 119.7 L93.1 120.7 L93.7 119.2 L94.2 119.6 L94.7 120.5 L95.4 117.7 L96.1 118.0 L96.8 116.9 L97.5 116.7 L98.2 116.4 L98.9 113.9 L99.4 115.9 L99.8 117.3 L100.3 120.0 L101.0 118.8 L101.7 118.3 L102.2 118.9 L102.8 116.5 L103.3 116.5 L103.8 114.6 L104.3 114.1 L104.9 115.5 L105.5 114.6 L106.0 113.8 L106.7 113.4 L107.3 114.5 L108.0 116.7 L108.5 114.8 L109.0 112.9 L109.5 113.4 L110.0 113.6 L110.8 113.9 L111.5 112.5 L112.0 112.7 L112.5 114.2 L113.0 113.7 L113.8 113.2 L114.6 113.7 L115.4 113.5 L116.2 114.4 L117.0 113.5 L117.7 114.6 L118.3 115.2 L119.0 116.4 L119.8 117.2 L120.7 114.7 L121.5 116.7 L122.3 116.4 L123.2 114.7 L124.1 113.2 L125.0 114.7 L125.9 115.3 L126.9 114.5 L127.8 114.7 L128.8 115.4 L129.7 117.1 L130.6 116.4 L131.5 116.9 L132.5 116.9 L133.4 117.3 L134.3 117.3 L135.2 117.8 L136.2 117.0 L137.1 119.1 L138.1 116.3 L139.0 117.8 L139.9 117.2 L140.8 117.4 L141.7 116.9 L142.6 116.7 L143.5 115.9 L144.4 115.2 L145.2 117.2 L146.1 117.7 L147.0 117.7 L147.9 119.6 L148.8 120.0 L149.6 118.8 L150.5 119.1 L150.7 117.5 L150.9 117.6 L151.1 115.5 L151.3 114.9 L151.6 115.8 L151.8 112.5 L152.0 113.4 L152.2 111.6 L152.3 110.1 L152.5 110.6 L152.6 109.3 L152.8 108.9 L152.9 107.4 L153.1 106.4 L153.2 106.7 L153.4 107.7 L153.5 109.7 L153.6 110.4 L153.7 110.1 L153.9 111.8 L154.0 113.5 L154.7 111.2 L155.4 110.5 L155.6 113.1 L155.8 112.5 L156.0 114.4 L156.2 116.8 L156.5 115.1 L156.7 117.0 L156.9 117.4 L157.1 119.6 L157.8 118.5 L158.5 116.7 L159.2 118.0 L159.4 117.8 L159.5 116.2 L159.7 114.0 L159.8 115.2 L160.0 113.0 L160.1 111.6 L160.3 109.6 L160.4 109.8 L160.6 107.5 L160.8 107.0 L161.1 107.3 L161.3 106.7 L161.4 107.3 L161.5 108.0 L161.6 109.9 L161.7 110.9 L161.9 109.4 L162.0 112.4 L162.1 113.6 L162.2 114.0 L162.3 114.7 L162.4 116.4 L162.6 115.2 L162.8 118.7 L163.0 118.5 L163.2 119.5 L163.4 120.5 L163.6 121.1 L164.5 121.0 L165.3 121.0 L166.2 120.9 L167.1 120.3 L167.9 122.9 L168.8 123.9 L169.7 122.9 L170.4 122.8 L171.2 123.3 L171.9 124.5 L172.6 124.7 L173.4 125.5 L174.1 127.0 L174.8 126.3 L175.6 126.0 L176.3 127.3 L177.2 128.6 L178.2 129.4 L179.1 128.2 L180.1 130.1 L181.0 128.3 L181.8 129.7 L182.5 128.6 L183.3 129.2 L184.1 130.7 L184.8 129.9 L185.6 131.8 L186.4 132.0 L187.2 133.9 L187.9 132.9 L188.7 132.5 L189.5 135.1 L190.3 134.1 L191.1 133.2 L191.9 133.7 L192.7 135.2 L193.4 136.6 L194.2 133.9 L195.0 135.7 L195.8 135.0 L196.7 136.3 L197.5 134.7 L198.3 137.1 L199.2 137.1 L200.0 137.8 L201.0 138.0 L201.9 138.7 L202.9 139.6 L203.6 138.2 L204.4 140.0 L205.1 140.3 L205.8 141.6 L206.8 141.2 L207.7 140.0 L208.7 140.7 L209.4 139.2 L210.2 140.5 L210.9 140.4 L211.7 140.3 L212.1 140.8 L212.5 140.2 L212.9 138.9 L213.4 138.8 L213.8 137.5 L214.2 137.1 L214.6 134.5 L214.9 134.9 L215.2 132.7 L215.5 133.7 L215.9 132.6 L216.2 132.3 L216.5 131.5 L216.8 129.7 L217.1 129.7 L217.4 131.2 L217.6 132.7 L217.9 133.8 L218.2 134.8 L218.4 134.2 L218.5 135.3 L218.7 137.6 L218.9 136.8 L219.0 139.0 L219.2 139.9 L219.4 141.6 L219.5 140.6 L219.7 143.2 L220.2 143.2 L220.7 144.4 L221.2 144.0 L221.7 145.6 L222.2 146.6 L222.9 147.1 L223.6 148.0 L224.3 148.2 L225.0 148.4 L225.7 149.0 L226.3 148.5 L226.8 150.7 L227.4 150.5 L228.0 152.2 L228.6 152.8 L229.2 152.4 L229.7 153.4 L230.3 155.0 L231.1 155.2 L231.9 155.4 L232.7 156.4 L233.4 156.5 L234.2 157.2 L235.0 157.4 L235.8 158.4 L236.5 156.8 L237.3 159.4 L238.1 157.5 L238.8 159.2 L239.6 161.6 L240.4 159.7 L241.2 160.4 L241.9 160.1 L242.7 162.3 L243.5 161.3 L244.3 162.3 L245.2 162.2 L246.2 161.9 L247.1 162.6 L248.1 162.3 L249.0 164.4 L249.9 163.0 L250.8 163.4 L251.8 161.3 L252.7 164.1 L253.6 163.8 L254.5 163.3 L255.5 163.6 L256.4 162.0 L257.4 163.6 L258.3 165.5 L259.2 164.9 L260.2 166.2 L261.1 165.6 L262.1 167.0 L263.0 166.6 L263.8 165.0 L264.5 167.3 L265.3 167.0 L266.1 166.0 L266.8 166.1 L267.6 167.0 L268.5 168.6 L269.5 168.2 L270.4 168.8 L271.4 168.8 L272.3 169.0 L273.2 168.8 L274.2 167.5 L275.1 171.5 L276.1 170.5 L277.0 168.4 L277.8 169.3 L278.5 172.3 L279.2 173.2 L280.0 172.3 L280.9 171.7 L281.7 171.4 L282.6 171.1 L283.5 171.5 L284.3 171.9 L285.2 171.1 L286.1 174.4 L287.0 172.0 L287.9 171.3 L288.7 172.7 L289.6 171.9 L290.5 172.7 L291.4 171.4 L292.2 172.4 L293.1 171.3 L294.0 173.5 L294.8 172.1 L295.7 174.7 L296.6 172.0 L297.5 172.6 L298.4 172.1 L299.2 174.3 L300.1 172.3 L301.0 173.1 L301.9 174.8 L302.7 172.2 L303.6 173.6 L304.5 175.0 L305.3 173.6 L306.2 173.3 L307.1 174.8 L308.0 175.7 L308.9 175.9 L309.7 174.2 L310.6 173.5 L311.5 172.5 L312.4 174.3 L313.2 173.2 L314.1 174.4 L315.0 175.2 L315.8 175.6 L316.7 174.9 L317.6 178.1 L318.5 176.8 L319.4 175.9 L320.2 176.2 L321.1 178.0 L322.0 176.3 L322.9 177.5 L323.7 176.6 L324.6 176.5 L325.5 178.6 L326.3 175.5 L327.2 176.7 L328.1 177.7 L329.0 177.2 L329.9 176.7 L330.7 177.6 L331.6 175.9 L332.5 176.7 L333.4 176.9 L334.2 176.0 L335.1 176.3 L336.0 178.7 L336.8 176.3 L337.7 180.0 L338.4 177.8 L339.2 180.5 L340.1 179.2 L341.0 178.3 L341.9 179.5 L342.7 177.1 L343.6 179.2 L344.5 179.8 L345.4 179.5 L346.2 178.3 L347.1 177.1 L348.0 181.5 L348.8 181.5 L349.7 179.5 L350.6 181.3 L351.5 179.2 L352.4 180.1 L353.2 183.0 L354.1 179.7 L355.0 181.8 L355.9 182.2 L356.7 182.2 L357.6 183.0 L358.5 178.8 L359.3 181.0 L360.2 180.7 L361.1 180.2 L362.0 179.5 L362.8 181.5 L363.7 180.1 L364.6 180.5 L365.1 180.2 L365.6 181.1 L366.2 184.1 L366.7 182.0 L367.2 185.1 L368.1 182.6 L369.0 186.5 L369.9 184.2 L370.7 183.1 L371.6 184.0 L372.5 183.9 L373.4 186.1 L374.2 185.2 L375.1 186.3 L376.0 186.1 L376.8 187.4 L377.7 187.0 L378.6 186.0 L379.5 185.3 L380.4 188.3 L381.2 185.9 L382.1 187.2 L383.0 184.9 L383.9 187.3 L384.7 187.2 L385.6 189.1 L386.5 188.3 L387.3 189.8 L388.2 188.6 L389.1 188.6 L390.0 188.7 L390.9 188.8 L391.8 190.2 L392.7 190.1 L393.6 192.0"/><path stroke="#108c64" stroke-width="2.0" d="M53.4 305.2 L53.5 304.3 L53.6 303.3 L53.7 302.4 L53.8 301.5 L53.9 300.6 L54.0 299.6 L54.1 298.7 L54.2 297.8 L54.3 296.9 L54.5 295.9 L54.6 295.0 L54.6 294.0 L54.7 293.1 L54.7 292.1 L54.8 291.2 L54.8 290.2 L54.9 289.3 L54.9 288.3 L55.0 287.4 L55.1 286.4 L55.1 285.5 L55.2 284.5 L55.2 283.6 L55.3 282.6 L55.3 281.7 L55.4 280.7 L55.4 279.8 L55.5 278.8 L55.5 277.9 L55.6 276.9 L55.6 276.0 L55.7 275.0 L55.7 274.1 L55.8 273.1 L55.8 272.2 L55.9 271.2 L55.9 270.3 L56.0 269.3 L56.0 268.4 L56.1 267.4 L56.1 266.5 L56.2 265.5 L56.2 264.6 L56.3 263.6 L56.3 262.7 L56.4 261.7 L56.4 260.8 L56.5 259.8 L56.5 258.9 L56.6 257.9 L56.6 257.0 L56.6 256.1 L56.7 255.1 L56.7 254.2 L56.8 253.2 L56.8 252.3 L56.8 251.3 L56.9 250.4 L56.9 249.4 L56.9 248.5 L57.0 247.6 L57.0 246.6 L57.1 245.7 L57.1 244.7 L57.1 243.8 L57.2 242.8 L57.2 241.9 L57.3 240.9 L57.3 240.0 L57.3 239.1 L57.3 238.1 L57.4 237.2 L57.4 236.2 L57.4 235.3 L57.4 234.3 L57.4 233.4 L57.5 232.4 L57.5 231.5 L57.5 230.5 L57.5 229.6 L57.6 228.6 L57.6 227.7 L57.6 226.7 L57.6 225.8 L57.6 224.8 L57.7 223.9 L57.7 222.9 L57.7 222.0 L57.7 221.1 L57.7 220.1 L57.7 219.2 L57.7 218.2 L57.8 217.3 L57.8 216.3 L57.8 215.4 L57.8 214.4 L57.8 213.5 L57.8 212.6 L57.8 211.6 L57.8 210.7 L57.8 209.7 L57.9 208.8 L57.9 207.8 L57.9 206.9 L57.9 205.9 L57.9 205.0 L57.9 204.1 L57.9 203.1 L58.0 202.2 L58.0 201.2 L58.0 200.3 L58.0 199.4 L58.0 198.4 L58.0 197.5 L58.1 196.6 L58.1 195.6 L58.1 194.7 L58.1 193.8 L58.1 192.8 L58.2 191.9 L58.2 190.9 L58.2 190.0 L58.3 189.1 L58.3 188.2 L58.4 187.3 L58.4 186.4 L58.5 185.5 L58.5 184.5 L58.6 183.6 L58.6 182.7 L58.7 181.8 L58.7 180.9 L58.8 180.0 L58.9 179.1 L58.9 178.2 L59.0 177.2 L59.0 176.3 L59.1 175.4 L59.2 174.5 L59.2 173.5 L59.3 172.6 L59.4 171.7 L59.4 170.8 L59.5 169.8 L59.5 168.9 L59.6 168.0 L59.9 167.2 L60.2 166.4 L60.6 165.4 L60.9 164.9 L61.2 164.0 L61.7 163.1 L62.2 162.5 L62.7 161.3 L63.5 161.0 L64.2 161.2 L65.0 160.0 L65.7 161.7 L66.4 160.4 L67.2 159.9 L67.9 160.8 L68.6 159.0 L69.3 157.5 L70.0 157.5 L70.8 158.4 L71.5 157.7 L72.0 156.7 L72.6 154.9 L73.2 154.4 L73.7 153.6 L74.2 151.4 L74.8 152.3 L75.4 151.3 L75.9 150.7 L76.6 151.0 L77.3 149.1 L78.0 149.7 L78.5 151.2 L79.1 148.6 L79.7 147.9 L80.2 146.4 L81.0 147.1 L81.7 147.1 L82.5 145.0 L83.2 145.5 L83.9 144.8 L84.7 143.8 L85.4 144.6 L86.1 144.9 L86.7 144.1 L87.3 142.2 L87.8 140.3 L88.4 140.9 L89.0 140.6 L89.6 139.7 L90.4 139.7 L91.2 138.8 L91.9 138.5 L92.7 137.0 L93.5 136.3 L94.3 137.6 L95.0 136.8 L95.8 134.2 L96.6 134.1 L97.5 134.7 L98.3 134.8 L99.2 135.0 L100.1 131.3 L101.0 132.0 L101.8 132.5 L102.7 132.3 L103.6 132.4 L104.6 131.8 L105.6 131.7 L106.6 131.1 L107.6 131.7 L108.6 131.6 L109.6 133.1 L110.6 130.9 L111.5 130.6 L112.4 131.3 L113.3 131.3 L114.2 131.7 L115.1 131.4 L116.0 133.0 L116.8 133.1 L117.6 130.6 L118.4 133.5 L119.2 131.5 L120.0 132.7 L120.8 133.1 L121.7 133.0 L122.5 132.3 L123.3 133.0 L124.2 133.1 L125.0 132.3 L125.9 132.8 L126.9 133.7 L127.8 132.9 L128.8 135.7 L129.7 135.6 L130.5 135.2 L131.2 133.9 L132.0 134.3 L132.8 132.8 L133.5 132.2 L134.3 130.7 L135.1 130.9 L135.9 133.4 L136.7 132.9 L137.4 135.5 L138.2 134.5 L139.0 135.1 L139.9 136.0 L140.8 133.8 L141.8 131.9 L142.7 132.7 L143.6 133.3 L144.3 133.1 L145.1 133.8 L145.8 134.9 L146.6 134.8 L147.5 134.9 L148.4 134.7 L149.3 135.2 L150.2 136.7 L150.6 133.7 L150.9 134.5 L151.3 133.5 L151.7 132.4 L152.0 131.5 L152.4 130.5 L152.8 128.4 L153.1 128.6 L153.5 130.7 L153.8 130.2 L154.2 130.5 L154.6 131.3 L154.8 133.3 L155.0 131.7 L155.2 133.5 L155.4 136.6 L155.6 136.2 L155.8 137.6 L156.0 137.8 L156.8 135.5 L157.7 136.4 L158.5 136.0 L158.9 133.7 L159.4 134.1 L159.8 134.8 L160.2 130.9 L160.7 130.0 L161.1 129.5 L161.5 131.9 L161.8 133.6 L162.2 132.5 L162.6 135.0 L163.0 134.3 L163.5 135.7 L163.9 136.9 L164.4 136.2 L164.8 138.1 L165.5 139.5 L166.2 138.9 L167.0 140.3 L167.7 140.2 L168.4 142.1 L169.1 140.5 L169.9 141.5 L170.6 139.8 L171.5 140.8 L172.4 140.0 L173.4 140.5 L174.3 140.4 L175.2 140.5 L176.0 141.4 L176.9 142.1 L177.7 142.1 L178.6 141.9 L179.5 143.1 L180.3 143.5 L181.2 143.4 L182.1 143.8 L183.0 143.4 L183.8 145.2 L184.7 144.3 L185.6 144.3 L186.5 146.5 L187.5 145.4 L188.4 145.4 L189.4 145.8 L190.3 146.0 L191.1 146.5 L191.9 146.5 L192.7 147.3 L193.4 145.8 L194.2 149.1 L195.0 148.4 L195.8 149.2 L196.7 149.6 L197.5 149.5 L198.3 150.9 L199.2 150.5 L200.0 149.7 L200.9 150.9 L201.9 151.3 L202.8 151.6 L203.8 151.2 L204.7 153.5 L205.5 151.8 L206.2 153.2 L207.0 153.0 L207.8 153.5 L208.5 154.4 L209.3 153.2 L210.2 154.9 L211.1 154.4 L211.9 154.0 L212.8 152.6 L213.3 151.9 L213.8 152.7 L214.3 152.0 L214.8 151.0 L215.3 149.5 L215.8 149.5 L216.3 149.3 L216.6 150.5 L217.0 151.1 L217.3 149.8 L217.7 151.9 L218.0 152.9 L218.4 154.5 L218.7 154.8 L219.4 156.0 L220.0 156.5 L220.7 155.6 L221.3 159.4 L222.0 158.8 L222.6 159.3 L223.3 159.1 L224.1 160.8 L224.9 161.5 L225.7 159.9 L226.4 160.4 L227.2 159.3 L228.0 161.6 L228.8 161.9 L229.6 161.8 L230.3 163.6 L231.1 163.3 L231.9 164.9 L232.7 164.8 L233.6 163.4 L234.5 164.4 L235.5 166.0 L236.4 163.8 L237.3 164.8 L238.2 167.4 L239.2 167.1 L240.1 166.2 L241.1 166.7 L242.0 165.8 L242.9 166.8 L243.8 166.6 L244.8 168.6 L245.7 168.8 L246.6 168.0 L247.5 170.1 L248.5 169.8 L249.4 170.7 L250.4 171.2 L251.3 170.3 L252.2 171.5 L253.2 170.4 L254.1 170.5 L255.1 170.3 L256.0 171.8 L256.9 172.1 L257.8 172.5 L258.8 171.8 L259.7 171.9 L260.6 172.7 L261.5 172.7 L262.5 171.6 L263.4 173.6 L264.4 175.3 L265.3 172.1 L266.2 173.8 L267.2 174.2 L268.1 174.0 L269.1 172.8 L270.0 174.1 L270.8 173.1 L271.7 173.4 L272.5 175.1 L273.3 175.1 L274.2 176.2 L275.0 178.0 L275.8 175.3 L276.7 178.0 L277.5 176.2 L278.3 177.7 L279.2 177.2 L280.0 178.3 L280.9 178.2 L281.7 177.6 L282.6 175.8 L283.5 178.5 L284.3 176.3 L285.2 178.1 L286.1 175.6 L287.0 176.8 L287.9 176.0 L288.7 177.3 L289.6 176.7 L290.5 177.3 L291.4 176.8 L292.2 177.6 L293.1 179.3 L294.0 178.3 L294.8 177.9 L295.7 178.3 L296.6 179.7 L297.5 177.7 L298.4 176.9 L299.2 177.7 L300.1 177.5 L301.0 178.3 L301.9 179.0 L302.7 179.2 L303.6 177.4 L304.5 177.8 L305.3 178.5 L306.2 179.8 L307.1 178.9 L308.0 179.1 L308.9 179.0 L309.7 180.1 L310.6 180.2 L311.5 179.5 L312.4 180.0 L313.2 180.5 L314.1 179.6 L315.0 180.1 L315.8 179.2 L316.7 179.7 L317.6 177.9 L318.5 177.9 L319.4 178.4 L320.2 181.7 L321.1 181.2 L322.0 181.1 L322.9 181.8 L323.7 180.1 L324.6 181.0 L325.5 181.8 L326.3 182.9 L327.2 181.5 L328.1 179.8 L329.0 178.8 L329.9 178.5 L330.7 181.9 L331.6 183.6 L332.5 181.3 L333.4 183.3 L334.2 180.1 L335.1 182.8 L336.0 181.7 L336.8 181.8 L337.7 182.5 L338.7 181.7 L339.6 183.9 L340.6 180.9 L341.6 180.3 L342.6 181.6 L343.5 181.3 L344.5 181.3 L345.4 181.5 L346.2 180.2 L347.1 180.8 L348.0 185.2 L348.8 183.1 L349.7 182.4 L350.6 182.3 L351.5 181.7 L352.4 181.5 L353.2 183.0 L354.1 180.7 L355.0 180.8 L355.9 182.6 L356.7 183.0 L357.6 184.6 L358.5 182.6 L359.3 182.4 L360.2 185.4 L361.1 182.8 L362.0 183.4 L362.8 183.1 L363.7 180.7 L364.6 180.9 L365.2 180.4 L365.9 183.6 L366.6 182.8 L367.2 183.9 L368.1 183.6 L369.0 184.4 L369.9 186.4 L370.7 184.9 L371.6 183.6 L372.5 185.9 L373.4 183.3 L374.2 185.7 L375.1 185.2 L376.0 185.2 L376.8 187.1 L377.7 188.8 L378.6 190.4 L379.5 188.9 L380.4 189.1 L381.2 189.9 L382.1 187.4 L383.0 188.1 L383.9 186.8 L384.7 189.4 L385.6 187.4 L386.5 188.6 L387.3 188.5 L388.2 188.0 L389.1 189.7 L390.0 189.5 L390.9 190.5 L391.8 187.9 L392.7 191.4 L393.6 192.2"/><path stroke="#8c24ff" stroke-width="2.0" d="M53.4 305.2 L53.5 304.3 L53.6 303.3 L53.7 302.4 L53.9 301.5 L54.0 300.6 L54.1 299.6 L54.2 298.7 L54.4 297.8 L54.5 296.9 L54.6 295.9 L54.7 295.0 L54.8 294.0 L54.9 293.1 L54.9 292.1 L55.0 291.2 L55.0 290.2 L55.1 289.3 L55.2 288.3 L55.2 287.4 L55.3 286.4 L55.3 285.5 L55.4 284.5 L55.5 283.6 L55.5 282.6 L55.6 281.7 L55.6 280.7 L55.7 279.8 L55.8 278.8 L55.8 277.9 L55.9 276.9 L55.9 276.0 L56.0 275.0 L56.0 274.1 L56.1 273.1 L56.1 272.2 L56.2 271.2 L56.2 270.3 L56.3 269.3 L56.3 268.4 L56.4 267.4 L56.4 266.5 L56.5 265.5 L56.5 264.6 L56.6 263.6 L56.6 262.7 L56.7 261.7 L56.7 260.8 L56.8 259.8 L56.8 258.9 L56.9 257.9 L56.9 257.0 L56.9 256.1 L57.0 255.1 L57.0 254.2 L57.1 253.2 L57.1 252.3 L57.1 251.3 L57.2 250.4 L57.2 249.4 L57.2 248.5 L57.3 247.6 L57.3 246.6 L57.4 245.7 L57.4 244.7 L57.4 243.8 L57.5 242.8 L57.5 241.9 L57.6 240.9 L57.6 240.0 L57.6 239.1 L57.6 238.1 L57.7 237.2 L57.7 236.2 L57.7 235.3 L57.7 234.3 L57.7 233.4 L57.8 232.4 L57.8 231.5 L57.8 230.5 L57.8 229.6 L57.9 228.6 L57.9 227.7 L57.9 226.7 L57.9 225.8 L57.9 224.8 L58.0 223.9 L58.0 222.9 L58.0 222.0 L58.0 221.1 L58.0 220.1 L58.0 219.2 L58.0 218.2 L58.1 217.3 L58.1 216.3 L58.1 215.4 L58.1 214.4 L58.1 213.5 L58.1 212.6 L58.1 211.6 L58.1 210.7 L58.1 209.7 L58.2 208.8 L58.2 207.8 L58.2 206.9 L58.2 205.9 L58.2 205.0 L58.2 204.1 L58.3 203.2 L58.3 202.3 L58.3 201.4 L58.4 200.6 L58.4 199.7 L58.4 198.8 L58.5 197.9 L58.5 197.0 L58.6 196.1 L58.7 195.3 L58.8 194.4 L58.9 193.6 L59.0 192.7 L59.1 191.9 L59.2 191.0 L59.3 190.0 L59.5 189.1 L59.6 188.1 L59.8 187.1 L59.9 186.1 L60.1 185.2 L60.2 184.2 L60.6 183.3 L60.9 182.5 L61.3 181.5 L61.5 181.0 L61.8 179.5 L62.0 178.9 L62.3 178.9 L62.5 177.6 L62.8 175.5 L63.2 175.4 L63.5 175.0 L64.2 175.7 L65.0 175.6 L65.7 177.3 L66.4 176.8 L67.2 175.5 L67.9 174.7 L68.6 174.5 L69.2 173.9 L69.8 174.0 L70.4 173.3 L71.0 173.6 L71.5 171.8 L72.0 171.2 L72.5 169.9 L73.0 171.4 L73.6 169.3 L74.2 167.9 L74.7 167.5 L75.3 167.5 L75.9 165.8 L76.6 167.4 L77.3 165.6 L78.1 165.8 L78.8 164.5 L79.5 164.7 L80.2 164.5 L81.0 165.8 L81.7 166.3 L82.0 165.5 L82.3 164.3 L82.6 164.0 L82.9 163.3 L83.2 161.3 L83.9 160.1 L84.7 162.6 L85.4 160.7 L86.1 159.2 L86.6 160.4 L87.1 159.3 L87.5 157.6 L88.0 155.4 L88.5 156.6 L89.0 154.8 L90.0 153.7 L90.9 154.8 L91.9 155.2 L92.6 156.6 L93.3 156.1 L94.1 156.0 L94.8 154.3 L95.5 154.7 L96.2 154.5 L97.0 153.6 L97.7 151.8 L98.4 151.4 L99.2 151.3 L99.9 152.1 L100.6 151.7 L101.3 149.9 L102.1 149.6 L102.8 150.6 L103.6 150.8 L104.5 150.3 L105.3 150.4 L106.2 149.8 L107.1 148.5 L108.0 148.7 L108.8 149.1 L109.7 149.0 L110.6 149.5 L111.5 149.8 L112.4 150.4 L113.3 149.8 L114.2 148.9 L115.1 149.5 L116.0 148.3 L116.8 151.2 L117.6 149.8 L118.4 148.1 L119.2 150.6 L120.0 149.8 L120.8 151.3 L121.7 149.0 L122.5 149.9 L123.3 148.4 L124.2 150.5 L125.0 148.1 L125.9 149.6 L126.9 149.8 L127.8 150.0 L128.8 150.3 L129.7 150.7 L130.5 151.7 L131.4 151.3 L132.2 151.0 L133.0 152.2 L133.8 152.6 L134.7 152.5 L135.5 153.3 L136.5 151.7 L137.4 151.9 L138.4 152.4 L139.4 152.7 L140.3 152.7 L141.3 153.6 L142.1 151.8 L142.8 152.9 L143.6 152.0 L144.3 152.2 L145.1 151.8 L145.8 151.3 L146.6 153.2 L147.2 151.8 L147.8 154.1 L148.3 152.9 L148.9 154.5 L149.5 155.8 L149.9 155.8 L150.3 154.0 L150.7 154.9 L151.1 154.4 L151.5 152.7 L151.9 151.3 L152.3 150.7 L152.7 151.6 L153.1 149.5 L153.7 150.4 L154.3 151.0 L154.8 150.7 L155.4 153.7 L156.0 152.8 L156.8 153.0 L157.7 153.4 L158.5 152.7 L159.3 151.7 L160.1 153.1 L160.8 150.2 L161.6 149.9 L162.1 151.2 L162.7 151.6 L163.2 152.7 L163.7 152.8 L164.3 155.1 L164.8 156.1 L165.7 155.6 L166.6 157.0 L167.4 156.6 L168.3 156.0 L169.2 155.9 L170.0 155.7 L170.8 158.6 L171.6 158.6 L172.5 157.7 L173.5 158.3 L174.4 159.1 L175.4 158.7 L176.3 158.7 L177.1 159.0 L177.8 159.2 L178.6 159.8 L179.3 158.6 L180.0 160.0 L180.7 161.3 L181.4 162.9 L182.1 162.5 L183.0 161.9 L183.8 163.6 L184.7 162.9 L185.6 161.6 L186.5 163.6 L187.3 162.4 L188.2 161.7 L189.1 162.8 L190.0 162.7 L190.8 164.2 L191.7 163.0 L192.6 161.4 L193.4 163.5 L194.2 164.0 L194.9 165.1 L195.7 166.3 L196.5 165.6 L197.3 166.1 L198.2 166.3 L199.1 165.0 L200.0 165.8 L200.9 165.9 L201.9 166.2 L202.8 167.5 L203.8 167.4 L204.7 168.1 L205.5 167.5 L206.2 167.2 L207.0 168.2 L207.8 169.6 L208.5 168.1 L209.3 168.6 L210.2 169.0 L211.1 169.7 L211.9 168.4 L212.8 168.1 L213.3 167.4 L213.8 166.7 L214.3 166.3 L214.8 165.1 L215.3 163.5 L215.8 163.9 L216.3 161.9 L216.7 163.6 L217.2 164.4 L217.6 163.8 L218.1 165.7 L218.5 167.7 L218.9 168.7 L219.4 169.6 L219.8 168.7 L220.5 170.7 L221.2 170.7 L221.9 171.1 L222.6 171.4 L223.3 173.4 L224.1 174.0 L224.9 173.4 L225.7 175.7 L226.4 173.6 L227.2 173.0 L228.0 174.6 L228.9 175.8 L229.9 174.8 L230.8 174.6 L231.8 176.7 L232.7 176.0 L233.6 176.1 L234.5 176.9 L235.5 177.3 L236.4 176.0 L237.3 178.0 L238.0 178.8 L238.6 178.0 L239.3 179.2 L240.0 178.9 L240.7 180.5 L241.3 180.1 L242.0 182.5 L242.9 182.7 L243.8 180.5 L244.8 182.7 L245.7 181.4 L246.6 179.7 L247.5 180.6 L248.5 180.2 L249.4 180.7 L250.4 180.9 L251.3 182.4 L252.2 181.7 L253.2 182.6 L254.1 181.9 L255.1 181.8 L256.0 181.9 L256.9 180.9 L257.8 183.7 L258.8 182.6 L259.7 181.0 L260.6 182.1 L261.5 183.8 L262.5 182.9 L263.4 181.6 L264.4 182.5 L265.3 185.6 L266.2 183.4 L267.2 184.1 L268.1 184.4 L269.1 182.3 L270.0 183.6 L270.8 184.2 L271.7 182.6 L272.5 184.4 L273.3 185.0 L274.2 184.7 L275.0 184.1 L275.8 184.7 L276.7 183.7 L277.5 184.0 L278.3 183.6 L279.2 183.8 L280.0 184.4 L280.9 183.0 L281.7 185.4 L282.6 184.6 L283.4 186.2 L284.3 184.3 L285.2 184.6 L286.1 184.5 L287.0 185.9 L287.8 184.4 L288.7 183.4 L289.6 181.5 L290.5 182.8 L291.4 183.4 L292.2 182.1 L293.1 182.2 L294.0 180.6 L294.8 184.0 L295.7 182.8 L296.6 182.3 L297.4 182.5 L298.3 183.3 L299.1 184.1 L300.0 182.8 L300.9 182.2 L301.8 183.0 L302.7 182.3 L303.5 183.7 L304.4 184.6 L305.3 183.7 L306.2 183.9 L307.1 183.3 L307.9 186.4 L308.8 183.5 L309.7 185.7 L310.6 184.2 L311.4 187.0 L312.3 185.1 L313.2 185.8 L314.1 185.3 L314.9 184.1 L315.8 185.5 L316.7 185.1 L317.5 186.5 L318.3 183.8 L319.1 185.8 L320.0 184.2 L320.8 187.2 L321.6 184.2 L322.5 187.2 L323.5 186.5 L324.4 187.7 L325.3 185.8 L326.3 184.2 L327.2 185.9 L328.1 183.2 L329.0 184.1 L329.9 185.2 L330.7 185.9 L331.6 184.6 L332.5 186.4 L333.4 185.7 L334.2 186.1 L335.1 188.5 L336.0 186.7 L336.8 189.6 L337.7 188.9 L338.7 187.9 L339.6 188.3 L340.6 187.5 L341.6 186.7 L342.6 187.3 L343.5 188.1 L344.5 188.1 L345.3 189.5 L346.2 188.9 L347.0 185.5 L347.8 187.8 L348.7 186.8 L349.5 188.9 L350.4 187.6 L351.3 187.1 L352.2 187.5 L353.2 187.5 L354.1 183.6 L355.0 184.5 L355.8 183.8 L356.7 188.2 L357.5 186.1 L358.3 186.3 L359.2 186.4 L360.0 185.9 L360.9 185.4 L361.8 185.4 L362.8 187.7 L363.7 186.4 L364.6 184.7 L365.5 186.5 L366.4 187.1 L367.2 189.0 L368.1 189.3 L369.0 189.0 L369.9 188.5 L370.7 187.5 L371.6 188.0 L372.5 188.9 L373.3 191.0 L374.2 187.7 L375.1 190.3 L376.0 191.5 L376.9 190.2 L377.7 192.7 L378.6 194.4 L379.5 194.2 L380.4 193.9 L381.2 195.9 L382.1 194.0 L383.0 194.4 L383.8 194.0 L384.7 195.7 L385.6 195.1 L386.4 196.1 L387.3 196.0 L388.2 196.4 L389.1 196.2 L390.0 196.9 L390.9 197.8 L391.8 198.1 L392.7 197.2 L393.6 198.7"/></g>
</svg>
</body></html>
